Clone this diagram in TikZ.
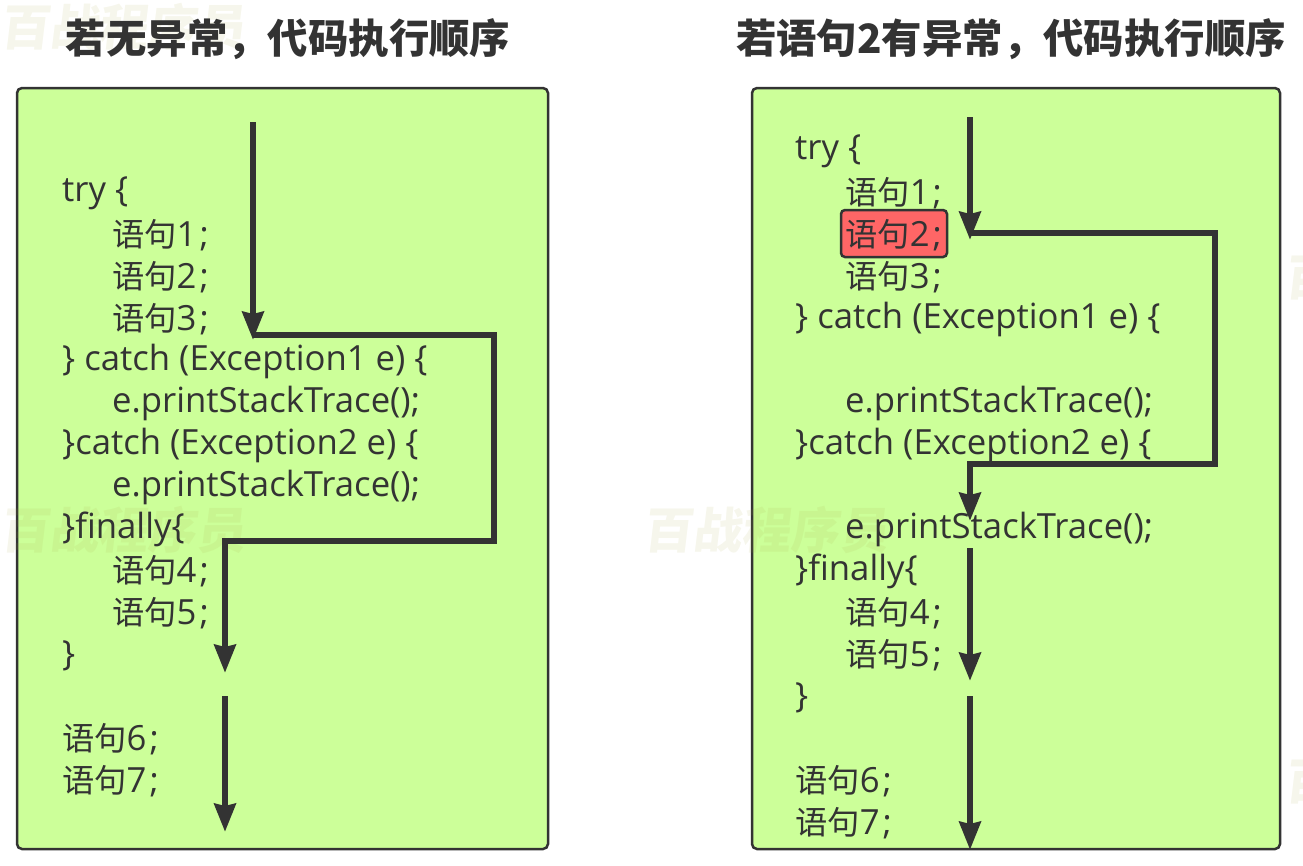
\documentclass[tikz,border=0pt]{standalone}
\usepackage{fontspec}
\usetikzlibrary{arrows.meta}
\setmainfont{Open Sans}
\newfontfamily\cjk{Noto Sans CJK SC}
\newfontfamily\cjks{Noto Sans CJK SC}[Scale=0.93]
\newfontfamily\wmf{Noto Sans CJK SC}[FakeSlant=0.12]
\newcommand{\yj}[1]{{\cjks 语句}#1\kern3pt;}
\newcommand{\fwc}{\symbol{"FF0C}}
\definecolor{ink}{HTML}{333333}
\definecolor{boxg}{HTML}{CCFF99}
\definecolor{wmc}{HTML}{A5A542}
\definecolor{rd}{HTML}{FF6666}
\tikzset{
  panel/.style={draw=ink,line width=2.5pt,fill=boxg,rounded corners=5pt,inner sep=0pt},
  code/.style={anchor=west,inner sep=0pt,text=ink,yshift=-3.5pt,font=\fontsize{34.7}{34.7}\selectfont},
  ttl/.style={anchor=center,inner sep=0pt,text=ink,font=\fontsize{40.4}{40.4}\selectfont\cjk\bfseries},
  flow/.style={draw=ink,line width=6.5pt,line join=miter},
  flowarr/.style={flow,-{Stealth[length=28pt,width=21pt,inset=2pt]}},
  wmark/.style={anchor=west,inner sep=0pt,text=wmc,text opacity=0.1,font=\fontsize{49}{49}\selectfont\wmf\bfseries},
}
\begin{document}
\begin{tikzpicture}[x=1pt,y=-1pt]
\useasboundingbox (0,0) rectangle (1303,865);
% panels
\node[panel,minimum width=531pt,minimum height=761pt] (boxL) at (282.5,468.5) {};
\node[panel,minimum width=528pt,minimum height=761pt] (boxR) at (1016,468.5) {};
% watermarks
\node[wmark] (w1) at (0,27) {百战程序员};
\node[wmark] (w2) at (0,530) {百战程序员};
\node[wmark] (w3) at (643,530) {百战程序员};
\node[wmark] (w4) at (1284,278) {百};
\node[wmark] (w5) at (1284,782) {百};
% titles
\node[ttl] (tL) at (288,39) {若无异常\fwc 代码执行顺序};
\node[ttl] (tR) at (1011,39) {若语句2有异常\fwc 代码执行顺序};
% left code
\node[code] (l1) at (62,190) {try \{};
\node[code] (l2) at (112,232) {\yj{1}};
\node[code] (l3) at (112,274) {\yj{2}};
\node[code] (l4) at (112,316) {\yj{3}};
\node[code] (l5) at (62,358) {\} catch (Exception1 e) \{};
\node[code] (l6) at (112,400) {e.printStackTrace();};
\node[code] (l7) at (62,442) {\}catch (Exception2 e) \{};
\node[code] (l8) at (112,484) {e.printStackTrace();};
\node[code] (l9) at (62,526) {\}finally\{};
\node[code] (l10) at (112,568) {\yj{4}};
\node[code] (l11) at (112,610) {\yj{5}};
\node[code] (l12) at (62,652) {\}};
\node[code] (l13) at (62,736) {\yj{6}};
\node[code] (l14) at (62,778) {\yj{7}};
% right code
\node[draw=ink,line width=2.5pt,fill=rd,rounded corners=4pt,minimum width=106pt,minimum height=47pt,inner sep=0pt] (hl) at (894,233.5) {};
\node[code] (r1) at (795,148) {try \{};
\node[code] (r2) at (845,190) {\yj{1}};
\node[code] (r3) at (845,232) {\yj{2}};
\node[code] (r4) at (845,274) {\yj{3}};
\node[code] (r5) at (795,316) {\} catch (Exception1 e) \{};
\node[code] (r6) at (845,400) {e.printStackTrace();};
\node[code] (r7) at (795,442) {\}catch (Exception2 e) \{};
\node[code] (r8) at (845,526) {e.printStackTrace();};
\node[code] (r9) at (795,568) {\}finally\{};
\node[code] (r10) at (845,610) {\yj{4}};
\node[code] (r11) at (845,652) {\yj{5}};
\node[code] (r12) at (795,694) {\}};
\node[code] (r13) at (795,778) {\yj{6}};
\node[code] (r14) at (795,820) {\yj{7}};
% left flow
\coordinate (a0) at (253,122);
\coordinate (a1) at (253,340);
\coordinate (a2) at (253,335);
\coordinate (a3) at (494,335);
\coordinate (a4) at (494,541);
\coordinate (a5) at (225,541);
\coordinate (a6) at (225,673);
\coordinate (a7) at (225,696);
\coordinate (a8) at (225,832);
\draw[flowarr] (a0) -- (a1);
\draw[flowarr] (a2) -- (a3) -- (a4) -- (a5) -- (a6);
\draw[flowarr] (a7) -- (a8);
% right flow
\coordinate (b0) at (970,117);
\coordinate (b1) at (970,240);
\coordinate (b2) at (970,233);
\coordinate (b3) at (1215,233);
\coordinate (b4) at (1215,464);
\coordinate (b5) at (970,464);
\coordinate (b6) at (970,521);
\coordinate (b7) at (970,548);
\coordinate (b8) at (970,681);
\coordinate (b9) at (970,696);
\coordinate (b10) at (970,850);
\draw[flowarr] (b0) -- (b1);
\draw[flowarr] (b2) -- (b3) -- (b4) -- (b5) -- (b6);
\draw[flowarr] (b7) -- (b8);
\draw[flowarr] (b9) -- (b10);
\end{tikzpicture}
\end{document}
